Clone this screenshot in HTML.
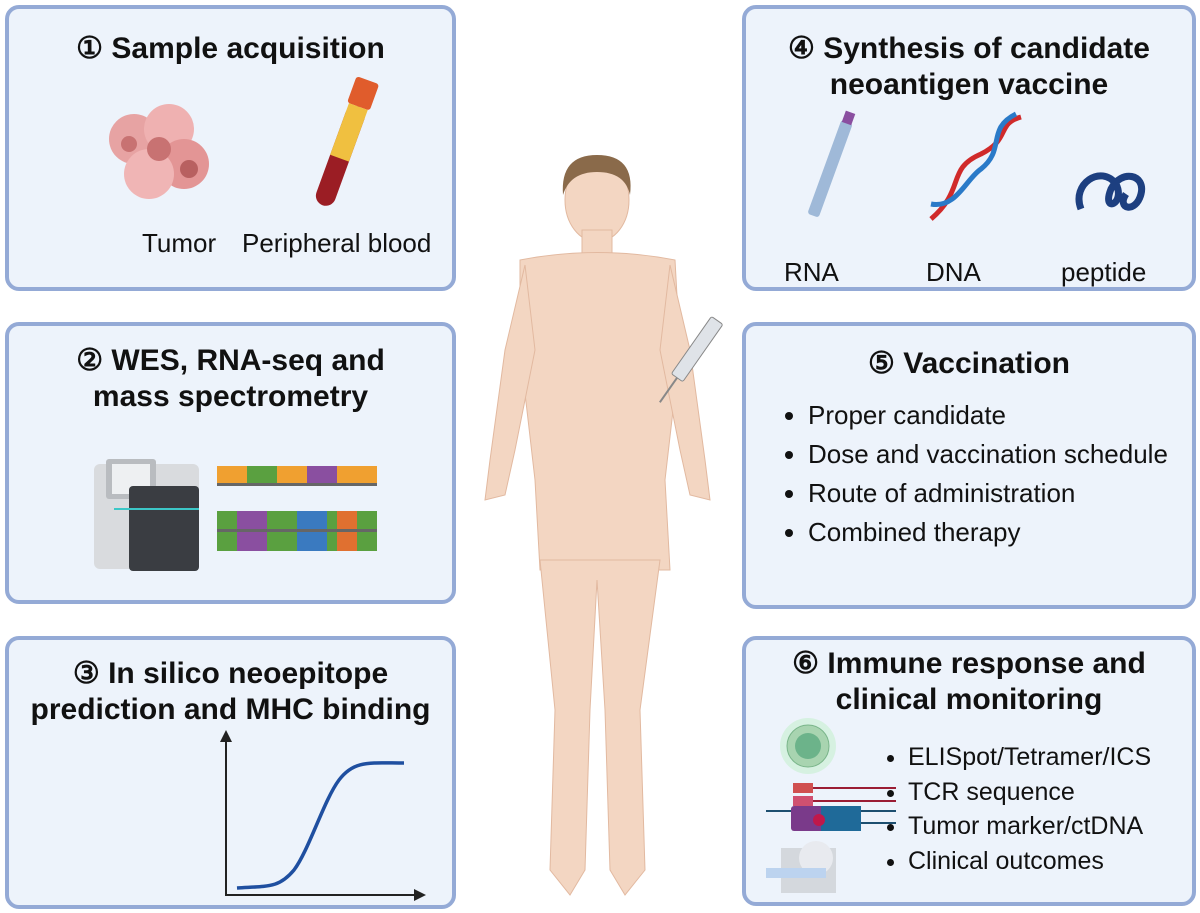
<!DOCTYPE html>
<html><head><style>
body{margin:0;width:1200px;height:913px;background:#fff;position:relative;font-family:"Liberation Sans",Arial,sans-serif;overflow:hidden}
.box{position:absolute;background:#edf3fb;border:4px solid #94aad6;border-radius:14px;box-sizing:border-box}
.t{position:absolute;left:-20px;right:-20px;text-align:center;font-weight:bold;font-size:30px;line-height:36px;color:#111}
.l{position:absolute;font-size:26px;color:#111;white-space:nowrap}
ul{position:absolute;margin:0;padding-left:24px;font-size:26px;line-height:39px;color:#111;white-space:nowrap}
</style></head><body>
<div class="box" style="left:5px;top:5px;width:451px;height:286px">
<div class="t" style="top:22px">① Sample acquisition</div>
<svg style="position:absolute;left:95px;top:90px" width="110" height="110">
<circle cx="30" cy="40" r="25" fill="#e7a3a3"/><circle cx="65" cy="30" r="25" fill="#efb1b1"/><circle cx="80" cy="65" r="25" fill="#e39595"/><circle cx="45" cy="75" r="25" fill="#f0b5b5"/><circle cx="55" cy="50" r="12" fill="#c87272"/><circle cx="25" cy="45" r="8" fill="#c87272"/><circle cx="85" cy="70" r="9" fill="#b86060"/></svg>
<div class="l" style="left:133px;top:219px">Tumor</div>
<svg style="position:absolute;left:295px;top:62px" width="80" height="150"><g transform="rotate(20 40 75)"><rect x="28" y="5" width="24" height="28" rx="3" fill="#e05c2c"/><rect x="30" y="33" width="20" height="105" rx="10" fill="#9b1d24"/><rect x="30" y="33" width="20" height="55" fill="#f0c040"/></g></svg>
<div class="l" style="left:233px;top:219px">Peripheral blood</div>
</div>
<div class="box" style="left:5px;top:322px;width:451px;height:282px">
<div class="t" style="top:17px">② WES, RNA-seq and<br>mass spectrometry</div>
<svg style="position:absolute;left:75px;top:130px" width="120" height="115"><rect x="10" y="8" width="105" height="105" rx="6" fill="#d9dbde"/><rect x="22" y="3" width="50" height="40" rx="3" fill="#b9bcc0"/><rect x="28" y="8" width="38" height="30" fill="#eef0f2"/><rect x="45" y="30" width="70" height="85" rx="4" fill="#3a3d42"/><rect x="30" y="52" width="85" height="2" fill="#3cc7c7"/></svg>
<svg style="position:absolute;left:208px;top:140px" width="160" height="90"><rect x="0" y="0" width="160" height="18" fill="#f0a030"/><rect x="30" y="0" width="30" height="18" fill="#5aa040"/><rect x="90" y="0" width="30" height="18" fill="#8a4fa0"/><rect x="0" y="17" width="160" height="3" fill="#666"/><rect x="0" y="45" width="160" height="40" fill="#5aa040"/><rect x="20" y="45" width="30" height="40" fill="#8a4fa0"/><rect x="80" y="45" width="30" height="40" fill="#3a7ac0"/><rect x="120" y="45" width="20" height="40" fill="#e07030"/><rect x="0" y="63" width="160" height="3" fill="#666"/></svg>
</div>
<div class="box" style="left:5px;top:636px;width:451px;height:273px">
<div class="t" style="top:16px">③ In silico neoepitope<br>prediction and MHC binding</div>
<svg style="position:absolute;left:200px;top:90px" width="220" height="175"><path d="M17 8V165H210" stroke="#222" stroke-width="2" fill="none"/><path d="M11 12L17 0L23 12Z M205 159L217 165L205 171Z" fill="#222"/><path d="M28 158C60 156 70 158 85 140C100 120 115 70 130 50C145 30 160 33 195 33" stroke="#1f4fa0" stroke-width="3.5" fill="none"/></svg>
</div>
<div class="box" style="left:742px;top:5px;width:454px;height:286px">
<div class="t" style="top:22px">④ Synthesis of candidate<br>neoantigen vaccine</div>
<svg style="position:absolute;left:40px;top:100px" width="90" height="120"><g transform="rotate(20 45 60)"><rect x="38" y="10" width="12" height="100" rx="3" fill="#9fb9d8"/><rect x="39" y="0" width="10" height="12" fill="#8a4fa0"/></g></svg>
<div class="l" style="left:38px;top:248px">RNA</div>
<svg style="position:absolute;left:180px;top:100px" width="100" height="120"><path d="M5 110C40 80 20 60 55 45C85 30 70 15 95 8" stroke="#d02a2a" stroke-width="5" fill="none"/><path d="M5 95C30 100 40 70 55 60C80 40 60 20 90 5" stroke="#2a7ac8" stroke-width="5" fill="none"/></svg>
<div class="l" style="left:180px;top:248px">DNA</div>
<svg style="position:absolute;left:325px;top:145px" width="80" height="70"><path d="M10 55C0 30 30 10 45 30C55 50 30 60 40 35C50 15 75 20 70 40C65 60 45 55 55 40" stroke="#1d3f80" stroke-width="7" fill="none"/></svg>
<div class="l" style="left:315px;top:248px">peptide</div>
</div>
<div class="box" style="left:742px;top:322px;width:454px;height:287px">
<div class="t" style="top:20px">⑤ Vaccination</div>
<ul style="left:38px;top:70px"><li>Proper candidate</li><li>Dose and vaccination schedule</li><li>Route of administration</li><li>Combined therapy</li></ul>
</div>
<div class="box" style="left:742px;top:636px;width:454px;height:270px">
<div class="t" style="top:6px">⑥ Immune response and<br>clinical monitoring</div>
<svg style="position:absolute;left:15px;top:68px" width="140" height="190"><circle cx="47" cy="38" r="28" fill="#c7f0d0" opacity=".6"/><circle cx="47" cy="38" r="21" fill="#a8d4b0" stroke="#7ab58a"/><circle cx="47" cy="38" r="13" fill="#6cb38a"/><rect x="32" y="75" width="20" height="10" fill="#d05050"/><rect x="32" y="88" width="20" height="10" fill="#d05070"/><path d="M52 80H135M52 93H135" stroke="#9b1d34" stroke-width="2"/><path d="M5 103H135M90 115H135" stroke="#1d4f70" stroke-width="2"/><rect x="30" y="98" width="45" height="25" rx="3" fill="#7a3a8a"/><rect x="60" y="98" width="40" height="25" fill="#1f6a99"/><circle cx="58" cy="112" r="6" fill="#c0184a"/><rect x="20" y="140" width="55" height="45" fill="#d4d8dd"/><circle cx="55" cy="150" r="17" fill="#e8eaef"/><rect x="5" y="160" width="60" height="10" fill="#bcd3ef"/></svg>
<ul style="left:138px;top:100px;font-size:25px;line-height:34.5px"><li>ELISpot/Tetramer/ICS</li><li>TCR sequence</li><li>Tumor marker/ctDNA</li><li>Clinical outcomes</li></ul>
</div>
<svg style="position:absolute;left:480px;top:150px" width="260" height="760">
<g fill="#f3d6c2" stroke="#e2b9a0" stroke-width="1">
<ellipse cx="117" cy="50" rx="32" ry="42"/>
<rect x="102" y="80" width="30" height="30"/>
<path d="M40 110Q117 95 195 110L200 200L185 330L190 420L60 420L55 330L40 200Z"/>
<path d="M45 115L25 200L10 310L5 350L25 345L35 300L55 200Z"/>
<path d="M190 115L210 200L225 310L230 350L210 345L200 300L180 200Z"/>
<path d="M60 410L75 560L70 720L90 745L105 720L110 560L117 430L125 560L130 720L145 745L165 720L160 560L180 410Z"/>
</g>
<path d="M83 45Q80 5 117 5Q155 5 150 45Q145 22 117 22Q90 22 83 45Z" fill="#8a6a4a"/>
<g transform="rotate(-55 220 195)"><rect x="180" y="188" width="70" height="14" rx="2" fill="#dfe3e8" stroke="#888"/><path d="M180 195H150" stroke="#888" stroke-width="2"/></g>
</svg>
</body></html>
